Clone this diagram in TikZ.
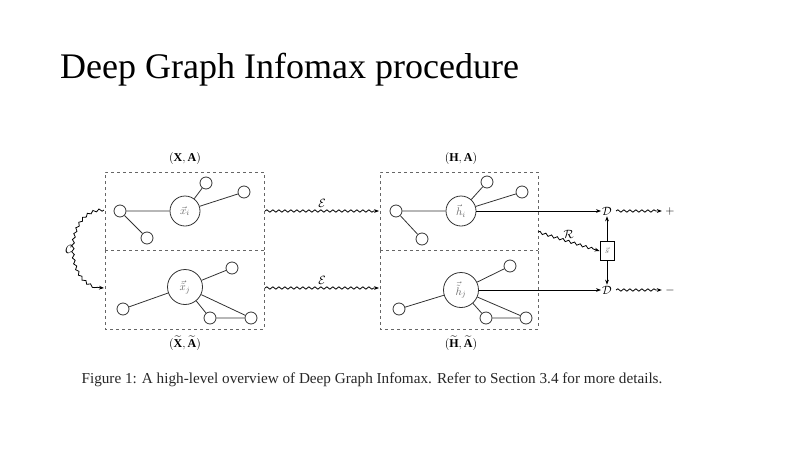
\documentclass[tikz,border=0pt]{standalone}
\usepackage{fontspec}
\setmainfont{Liberation Serif}
\usepackage{amsmath}
\usetikzlibrary{decorations.pathmorphing,arrows.meta}
\begin{document}
\begin{tikzpicture}[x=1pt,y=-1pt,
  sm/.style={circle,draw=black!80,line width=0.8pt,minimum size=12pt,inner sep=0pt},
  big/.style={circle,draw=black!80,line width=0.8pt,minimum size=30pt,inner sep=0pt,text=black!60,font=\fontsize{11}{13}\selectfont},
  bigb/.style={big,minimum size=35pt},
  edge/.style={draw=black!80,line width=0.8pt},
  box/.style={draw=black!60,dashed,line width=0.7pt},
  wig/.style={decorate,decoration={snake,amplitude=1.2pt,segment length=6pt,post length=4pt},line width=0.8pt,-{Stealth[length=5pt]}},
  lab/.style={font=\fontsize{12}{14}\selectfont},
  arr/.style={line width=0.8pt,-{Stealth[length=5pt]}}]
\useasboundingbox (0,0) rectangle (800,450);
\node[anchor=base west,inner sep=0pt,font=\fontsize{36}{40}\selectfont] (title) at (60,78) {Deep Graph Infomax procedure};
% boxes
\draw[box] (105,250) -- (105,172) -- (264,172) -- (264,250);
\draw[box] (105,250) -- (105,329) -- (264,329) -- (264,250);
\draw[box] (105,250) -- (264,250);
\draw[box] (380,250) -- (380,172) -- (538,172) -- (538,250);
\draw[box] (380,250) -- (380,329) -- (538,329) -- (538,250);
\draw[box] (380,250) -- (538,250);
\node[lab] (la) at (185,158) {$(\mathbf{X},\mathbf{A})$};
\node[lab] (lb) at (185,343) {$(\widetilde{\mathbf{X}},\widetilde{\mathbf{A}})$};
\node[lab] (lc) at (461,158) {$(\mathbf{H},\mathbf{A})$};
\node[lab] (ld) at (461,343) {$(\widetilde{\mathbf{H}},\widetilde{\mathbf{A}})$};
% left top graph
\node[big] (xi) at (185,211) {$\vec{x}_i$};
\node[sm] (a1) at (120,211) {};
\node[sm] (a2) at (147,238) {};
\node[sm] (a3) at (206,183) {};
\node[sm] (a4) at (244,192) {};
\draw[edge] (a1)--(xi) (a1)--(a2) (xi)--(a3) (xi)--(a4);
% left bottom graph
\node[bigb] (xj) at (185,287) {$\vec{\tilde{x}}_j$};
\node[sm] (b1) at (232,268) {};
\node[sm] (b2) at (123,309) {};
\node[sm] (b3) at (210,318) {};
\node[sm] (b4) at (251,318) {};
\draw[edge] (xj)--(b1) (xj)--(b2) (xj)--(b3) (xj)--(b4) (b3)--(b4);
% right top graph
\node[big] (hi) at (461,211) {$\vec{h}_i$};
\node[sm] (c1) at (396,211) {};
\node[sm] (c2) at (422,239) {};
\node[sm] (c3) at (487,182) {};
\node[sm] (c4) at (522,192) {};
\draw[edge] (c1)--(hi) (c1)--(c2) (hi)--(c3) (hi)--(c4);
% right bottom graph
\node[bigb] (hj) at (461,290) {$\vec{\tilde{h}}_j$};
\node[sm] (d1) at (510,266) {};
\node[sm] (d2) at (399,309) {};
\node[sm] (d3) at (486,318) {};
\node[sm] (d4) at (526,318) {};
\draw[edge] (hj)--(d1) (hj)--(d2) (hj)--(d3) (hj)--(d4) (d3)--(d4);
% discriminators
\node[lab,inner sep=1pt] (D1) at (607,211) {$\mathcal{D}$};
\node[lab,inner sep=1pt] (D2) at (607,290) {$\mathcal{D}$};
\node[draw,line width=0.8pt,minimum width=14pt,minimum height=19pt,inner sep=0pt,text=black!60,font=\footnotesize] (s) at (607,251) {$\vec{s}$};
\node[lab] (plus) at (670,211) {$+$};
\node[lab] (minus) at (670,290) {$-$};
\draw[arr] (hi.east)--(D1.west);
\draw[arr] (hj.east)--(D2.west);
\draw[arr] (s.north)--(D1.south);
\draw[arr] (s.south)--(D2.north);
\draw[wig] (D1.east)++(3,0) coordinate (p1) -- (plus.west);
\draw[wig] (D2.east)++(3,0) coordinate (p2) -- (minus.west);
\coordinate (r0) at (538,232);
\draw[wig] (r0) -- (s.west) node[midway,above,lab,yshift=-1pt] {$\mathcal{R}$};
% encoders
\coordinate (e1s) at (265,211); \coordinate (e1e) at (379,211);
\coordinate (e2s) at (265,288); \coordinate (e2e) at (379,288);
\draw[wig] (e1s) -- (e1e) node[midway,above,lab] {$\mathcal{E}$};
\draw[wig] (e2s) -- (e2e) node[midway,above,lab] {$\mathcal{E}$};
% corruption
\coordinate (cs) at (104,210); \coordinate (ce) at (104,288);
\draw[wig] (cs) to[out=180,in=180,looseness=1.3] node[midway,left,lab,xshift=2pt] {$\mathcal{C}$} (ce);
\node[font=\fontsize{15.2}{17}\selectfont,text=black!85] (cap) at (372,380) {Figure 1: A high-level overview of Deep Graph Infomax. Refer to Section 3.4 for more details.};
\end{tikzpicture}
\end{document}
